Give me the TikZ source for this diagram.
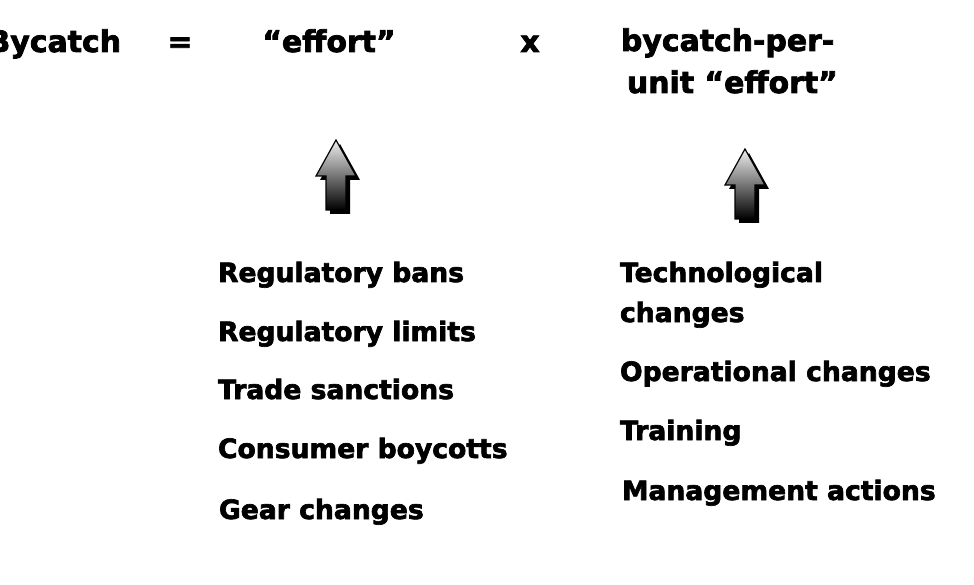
\documentclass[tikz,border=0pt]{standalone}
\usepackage{fontspec}
\setmainfont{DejaVu Sans}[BoldFeatures={FakeBold=2.5}]
\begin{document}
\begin{tikzpicture}[x=1bp,y=-1bp,
  every node/.style={inner sep=0pt, outer sep=0pt},
  head/.style={font=\fontsize{30}{36}\selectfont\bfseries},
  item/.style={font=\fontsize{26.7}{32}\selectfont\bfseries, anchor=base west},
  shadowpart/.style={fill=black},
  arrowbody/.style={top color=gray!12, bottom color=black, draw=black, line width=1.2bp, line join=miter}]
\fill[white] (0,0) rectangle (974,585);
\useasboundingbox (0,0) rectangle (974,585);
% header
\node[head, anchor=base east] (bycatch) at (121,52) {Bycatch};
\node[head, anchor=base] (eq) at (180,52) {=};
\node[head, anchor=base] (effort) at (329,52) {“effort”};
\node[head, anchor=base] (times) at (530,52) {x};
\node[head, anchor=base west] (bpu1) at (621,51) {bycatch-per-};
\node[head, anchor=base west] (bpu2) at (627,93) {unit “effort”};
% arrow 1
\fill[shadowpart, shift={(4,4)}] (336,140) -- (356,176) -- (346,176) -- (346,210) -- (326,210) -- (326,176) -- (316,176) -- cycle;
\shade[arrowbody] (336,140) -- (356,176) -- (346,176) -- (346,210) -- (326,210) -- (326,176) -- (316,176) -- cycle;
% arrow 2
\fill[shadowpart, shift={(4,4)}] (745,149) -- (765,185) -- (755,185) -- (755,219) -- (735,219) -- (735,185) -- (725,185) -- cycle;
\shade[arrowbody] (745,149) -- (765,185) -- (755,185) -- (755,219) -- (735,219) -- (735,185) -- (725,185) -- cycle;
% left list
\node[item] (l1) at (218,282) {Regulatory bans};
\node[item] (l2) at (218,341) {Regulatory limits};
\node[item] (l3) at (218,399) {Trade sanctions};
\node[item] (l4) at (218,458) {Consumer boycotts};
\node[item] (l5) at (219,519) {Gear changes};
% right list
\node[item] (r1) at (620,282) {Technological};
\node[item] (r1b) at (620,322) {changes};
\node[item] (r2) at (620,381) {Operational changes};
\node[item] (r3) at (620,440) {Training};
\node[item] (r4) at (622,500) {Management actions};
\end{tikzpicture}
\end{document}
